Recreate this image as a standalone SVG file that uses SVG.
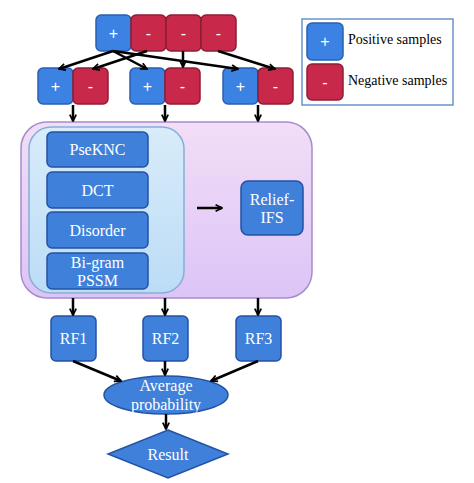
<svg xmlns="http://www.w3.org/2000/svg" width="474" height="483" viewBox="0 0 474 483">
<defs>
<linearGradient id="gPurple" x1="0" y1="0" x2="0" y2="1">
<stop offset="0" stop-color="#f2def6"/>
<stop offset="1" stop-color="#dcc4f6"/>
</linearGradient>
<linearGradient id="gBlue" x1="0" y1="0" x2="0" y2="1">
<stop offset="0" stop-color="#d8ecfa"/>
<stop offset="1" stop-color="#bcdcf6"/>
</linearGradient>
<marker id="ah" viewBox="0 0 10 10" refX="9" refY="5" markerWidth="8" markerHeight="8" orient="auto" markerUnits="userSpaceOnUse">
<path d="M1,1 L9,5 L1,9" fill="none" stroke="#000" stroke-width="2.2"/>
</marker>
<style>
.pos{fill:#3c82e2;stroke:#2a5fb2;stroke-width:1.5}
.neg{fill:#c8294a;stroke:#8e1c33;stroke-width:1.5}
.sym{fill:#fff;font-family:"Liberation Sans",Arial,sans-serif;font-size:16px;text-anchor:middle}
.box{fill:#3e80da;stroke:#2352a4;stroke-width:1.5}
.lbl{fill:#fff;font-family:"Liberation Serif","Times New Roman",serif;font-size:16px;text-anchor:middle}
.leg{fill:#000;font-family:"Liberation Serif","Times New Roman",serif;font-size:14px}
.con line{stroke:#000;stroke-width:2.5;fill:none;marker-end:url(#ah)}
</style>
</defs>

<g id="top-samples">
<rect class="pos" x="96" y="15" width="35" height="36" rx="5"/>
<text class="sym" x="113.5" y="39">+</text>
<rect class="neg" x="131" y="15" width="35" height="36" rx="5"/>
<text class="sym" x="148.5" y="39">-</text>
<rect class="neg" x="166" y="15" width="35" height="36" rx="5"/>
<text class="sym" x="183.5" y="39">-</text>
<rect class="neg" x="201" y="15" width="35" height="36" rx="5"/>
<text class="sym" x="218.5" y="39">-</text>
</g>

<g id="subset1">
<rect class="pos" x="38" y="68" width="35" height="36" rx="5"/>
<text class="sym" x="55.5" y="92">+</text>
<rect class="neg" x="73" y="68" width="35" height="36" rx="5"/>
<text class="sym" x="90.5" y="92">-</text>
</g>
<g id="subset2">
<rect class="pos" x="130" y="68" width="35" height="36" rx="5"/>
<text class="sym" x="147.5" y="92">+</text>
<rect class="neg" x="165" y="68" width="35" height="36" rx="5"/>
<text class="sym" x="182.5" y="92">-</text>
</g>
<g id="subset3">
<rect class="pos" x="223" y="68" width="35" height="36" rx="5"/>
<text class="sym" x="240.5" y="92">+</text>
<rect class="neg" x="258" y="68" width="35" height="36" rx="5"/>
<text class="sym" x="275.5" y="92">-</text>
</g>

<g id="legend">
<rect x="302" y="19" width="151" height="86" fill="#fff" stroke="#6a94cc" stroke-width="1.5"/>
<rect class="pos" x="307" y="23" width="36" height="37" rx="5"/>
<text class="sym" x="325" y="47">+</text>
<rect class="neg" x="307" y="64" width="36" height="36" rx="5"/>
<text class="sym" x="325" y="88">-</text>
<text class="leg" x="348" y="44">Positive samples</text>
<text class="leg" x="348" y="85">Negative samples</text>
</g>

<g id="feature-panel">
<rect x="21" y="122" width="291" height="176" rx="26" fill="url(#gPurple)" stroke="#a78ccc" stroke-width="1.5"/>
</g>
<g id="feature-group">
<rect x="29" y="127" width="155" height="166" rx="22" fill="url(#gBlue)" stroke="#86aed6" stroke-width="1.5"/>
</g>
<g id="pseknc">
<rect class="box" x="47" y="132" width="101" height="35" rx="5"/>
<text class="lbl" x="97.5" y="155">PseKNC</text>
</g>
<g id="dct">
<rect class="box" x="47" y="172" width="101" height="36" rx="5"/>
<text class="lbl" x="97.5" y="196">DCT</text>
</g>
<g id="disorder">
<rect class="box" x="47" y="212" width="101" height="36" rx="5"/>
<text class="lbl" x="97.5" y="236">Disorder</text>
</g>
<g id="bigram-pssm">
<rect class="box" x="47" y="253" width="101" height="36" rx="5"/>
<text class="lbl" x="97.5" y="268">Bi-gram</text>
<text class="lbl" x="97.5" y="286">PSSM</text>
</g>
<g id="relief-ifs">
<rect class="box" x="241" y="181" width="62" height="54" rx="7"/>
<text class="lbl" x="272" y="205">Relief-</text>
<text class="lbl" x="272" y="223">IFS</text>
</g>

<g id="rf1">
<rect class="box" x="51" y="316" width="45" height="45" rx="5"/>
<text class="lbl" x="73.5" y="344">RF1</text>
</g>
<g id="rf2">
<rect class="box" x="143" y="316" width="45" height="45" rx="5"/>
<text class="lbl" x="165.5" y="344">RF2</text>
</g>
<g id="rf3">
<rect class="box" x="236" y="316" width="45" height="45" rx="5"/>
<text class="lbl" x="258.5" y="344">RF3</text>
</g>

<g id="average">
<ellipse class="box" cx="166" cy="395" rx="62" ry="19"/>
<text class="lbl" x="166" y="391">Average</text>
<text class="lbl" x="166" y="410">probability</text>
</g>

<g id="result">
<polygon class="box" points="168,430 228,454 168,478 108,454"/>
<text class="lbl" x="168" y="460">Result</text>
</g>

<g id="connectors" class="con">
<line x1="113" y1="51" x2="59" y2="69"/>
<line x1="113" y1="51" x2="147" y2="69"/>
<line x1="113" y1="51" x2="238" y2="69"/>
<line x1="147" y1="51" x2="93" y2="69"/>
<line x1="183" y1="51" x2="183" y2="67"/>
<line x1="218" y1="51" x2="275" y2="69"/>
<line x1="73" y1="105" x2="73" y2="121"/>
<line x1="165" y1="105" x2="165" y2="121"/>
<line x1="258" y1="105" x2="258" y2="121"/>
<line x1="197" y1="208" x2="222" y2="208"/>
<line x1="73" y1="298" x2="73" y2="315"/>
<line x1="165" y1="298" x2="165" y2="315"/>
<line x1="258" y1="298" x2="258" y2="315"/>
<line x1="73" y1="361" x2="121" y2="381"/>
<line x1="165" y1="361" x2="165" y2="375"/>
<line x1="258" y1="361" x2="211" y2="381"/>
<line x1="166" y1="414" x2="166" y2="429"/>
</g>
</svg>
